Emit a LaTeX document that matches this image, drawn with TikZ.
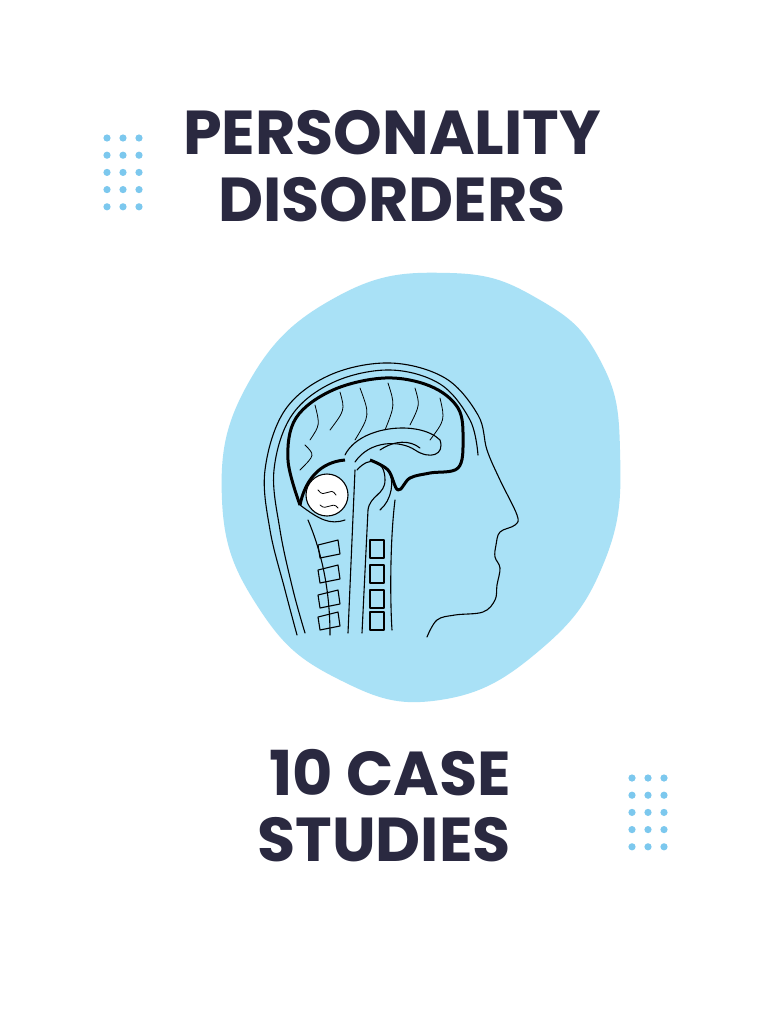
\documentclass[tikz,border=0pt]{standalone}
\usepackage{fontspec}
\setmainfont{Poppins}
\definecolor{navy}{HTML}{2A2940}
\definecolor{blob}{HTML}{A9E1F6}
\definecolor{dotc}{HTML}{7CC8EE}
\begin{document}
\begin{tikzpicture}[x=1pt,y=-1pt,
  title/.style={font=\fontsize{62}{62}\selectfont\bfseries, text=navy, inner sep=0pt},
  dot/.style={fill=dotc, draw=none},
  ink/.style={draw=black, line width=1.1pt, line join=round, line cap=round},
  thick ink/.style={draw=black, line width=3pt, line join=round}]
\useasboundingbox (0,0) rectangle (768,1024);
\fill[white] (0,0) rectangle (768,1024);
% dots
\foreach \i in {0,1,2}{\foreach \j in {0,...,4}{
  \fill[dot] (107+16*\i,138+17.2*\j) circle (3.6pt);
  \fill[dot] (632+16*\i,778+17.2*\j) circle (3.6pt);}}
% titles
\node[title] (t1) at (392,133) {PERSONALITY};
\node[title] (t2) at (392,200) {DISORDERS};
\node[title] (t3) at (390,773) {10 CASE};
\node[title] (t4) at (384,840) {STUDIES};
% blob
\fill[blob] plot[smooth cycle, tension=0.75] coordinates {
 (450,273) (540,300) (600,360) (620,450) (605,560) (540,650) (440,700)
 (340,680) (260,610) (222,500) (250,380) (340,295)};
% head outline
\draw[ink] plot[smooth, tension=0.6] coordinates {
 (297,635) (285,590) (270,530) (265,470) (285,410) (330,375) (390,363)
 (445,378) (478,415) (487,450) (500,480) (517,515) (515,525) (500,532)
 (496,545) (495,557) (500,568) (497,585) (495,600) (483,612) (455,615)
 (437,620) (427,637)};
\draw[ink] plot[smooth, tension=0.6] coordinates {
 (305,633) (293,590) (280,530) (274,470) (292,415) (334,382) (390,370)
 (440,384) (470,420) (478,455)};
% brain
\draw[thick ink] plot[smooth, tension=0.6] coordinates {
 (300,505) (288,460) (296,418) (333,390) (385,378) (430,386) (458,408)
 (463,440) (458,468) (430,473) (410,478) (398,490) (388,470) (370,460)};
\draw[thick ink] (300,505) .. controls (305,480) and (320,462) .. (345,460);
\draw[ink] (300,505) .. controls (320,520) and (330,525) .. (345,520);
% gyri
\foreach \a/\b/\c in {
 {(310,440)}/{(320,425)}/{(315,405)},
 {(330,430)}/{(345,410)}/{(340,392)},
 {(355,440)}/{(370,415)}/{(360,388)},
 {(385,430)}/{(395,405)}/{(388,383)},
 {(410,425)}/{(420,405)}/{(415,388)},
 {(430,440)}/{(445,420)}/{(440,398)},
 {(300,470)}/{(315,455)}/{(305,445)}}
 \draw[ink, line width=0.8pt] \a .. controls \b .. \c;
% corpus callosum
\draw[ink] (345,455) .. controls (360,425) and (420,420) .. (440,440)
  .. controls (445,455) and (430,460) .. (415,450)
  .. controls (400,440) and (370,440) .. (355,462);
\draw[ink] (380,450) .. controls (395,440) and (410,440) .. (420,448);
% cerebellum
\draw[ink, fill=white] (327,495) circle (21pt);
\draw[ink, line width=0.8pt] (318,490) .. controls (325,500) and (330,485) .. (336,495);
\draw[ink, line width=0.8pt] (320,505) .. controls (327,512) and (332,500) .. (338,508);
% brainstem
\draw[ink] (357,470) .. controls (370,455) and (385,460) .. (385,480)
  .. controls (385,495) and (370,495) .. (368,510) -- (362,633);
\draw[ink] (355,470) -- (348,633);
\draw[ink] (388,470) .. controls (395,480) and (392,500) .. (380,510);
% spine
\foreach \y in {540,565,590,612}{
 \draw[ink] (370,\y) rectangle (384,\y+18);
 \draw[ink] (318,\y+5) -- (338,\y) -- (340,\y+14) -- (320,\y+18) -- cycle;}
\draw[ink] (308,520) .. controls (325,560) and (330,600) .. (330,635);
\draw[ink] (395,500) .. controls (390,540) and (390,600) .. (392,630);
\end{tikzpicture}
\end{document}
